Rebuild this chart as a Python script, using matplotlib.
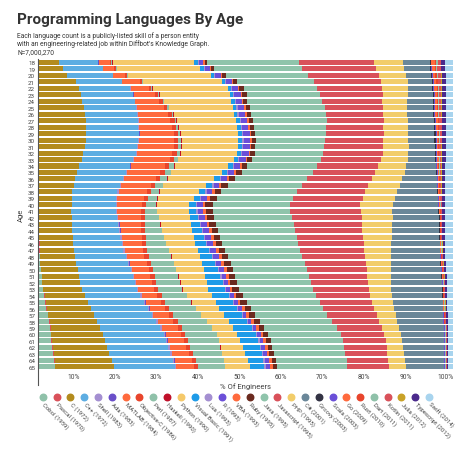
import numpy as np
import matplotlib.pyplot as plt

ages = list(range(18, 66))

languages = ["Cobol (1959)", "Pascal (1970)", "C (1972)", "C++ (1972)", "Shell (1983)", "Ada (1983)",
             "MATLAB (1984)", "Objective-C (1986)", "Perl (1987)", "Haskell (1990)", "Python (1990)",
             "Visual Basic (1991)", "Lua (1993)", "R (1993)", "VBA (1993)", "Ruby (1995)", "Java (1995)",
             "Javascript (1995)", "PHP (1995)", "C# (2001)", "Groovy (2003)", "Scala (2003)", "Go (2009)",
             "Rust (2010)", "Dart (2011)", "Kotlin (2011)", "Julia (2012)", "Typescript (2012)", "Swift (2014)"]

colors = ["#8fc1a9", "#d9515a", "#b38b1d", "#5dade2", "#a48fd1", "#6a4fc9",
          "#ff6a3d", "#e8452c", "#8fc1a9", "#c0102a", "#f5c96a",
          "#1e9be8", "#a48fd1", "#6b4fd8", "#ff6a3d", "#6b2a1f", "#8fc4ab",
          "#d9515a", "#f2cd6a", "#6a8799", "#333344", "#6a4fd8", "#ff6a3d",
          "#e8452c", "#8fc1a9", "#d9515a", "#c9a227", "#4b2a8c", "#a8d4ee"]

# share of engineers (%) per age, 18..65
cobol = [0.0, 0.0, 0.0, 0.0, 0.0, 0.0, 0.0, 0.0, 0.0, 0.0, 0.0, 0.0,
         0.0, 0.0, 0.0, 0.05, 0.05, 0.05, 0.1, 0.1, 0.1, 0.15, 0.2, 0.2,
         0.2, 0.2, 0.25, 0.25, 0.3, 0.3, 0.4, 0.5, 0.7, 0.9, 1.0, 1.2,
         1.5, 1.8, 2.1, 2.4, 2.7, 2.9, 3.1, 3.3, 3.5, 3.7, 3.9, 4.1]
pascal = [0.1, 0.1, 0.1, 0.1, 0.1, 0.1, 0.1, 0.1, 0.1, 0.1, 0.1, 0.1,
          0.1, 0.1, 0.1, 0.1, 0.1, 0.1, 0.1, 0.1, 0.1, 0.1, 0.1, 0.1,
          0.1, 0.1, 0.1, 0.1, 0.1, 0.1, 0.1, 0.1, 0.1, 0.1, 0.1, 0.1,
          0.2, 0.2, 0.2, 0.2, 0.2, 0.2, 0.2, 0.2, 0.2, 0.2, 0.2, 0.2]
c = [5.1, 5.8, 7.0, 9.2, 10.1, 10.6, 10.8, 11.3, 11.6, 11.8, 11.9, 12.0,
     11.9, 11.6, 11.1, 10.6, 10.0, 9.4, 8.9, 8.5, 8.2, 8.0, 8.0, 7.9,
     7.9, 8.0, 8.0, 8.1, 8.2, 8.4, 8.6, 8.8, 9.0, 9.1, 9.3, 9.4,
     9.8, 10.2, 10.7, 11.2, 11.8, 12.3, 12.8, 13.1, 13.4, 13.7, 14.0, 14.2]
cpp = [9.4, 9.6, 11.0, 11.3, 12.5, 12.8, 13.0, 13.0, 13.0, 13.1, 13.1, 13.1,
       13.0, 13.0, 13.0, 12.7, 12.3, 11.9, 11.5, 11.2, 11.0, 10.9, 10.8, 10.9,
       11.0, 11.2, 11.4, 11.6, 11.8, 12.0, 12.3, 12.6, 12.9, 13.1, 13.3, 13.5,
       13.7, 13.9, 14.1, 14.3, 14.6, 14.8, 15.0, 15.0, 15.0, 15.0, 15.0, 15.0]
shell = [0.1, 0.1, 0.1, 0.1, 0.1, 0.1, 0.1, 0.1, 0.1, 0.1, 0.1, 0.2,
         0.2, 0.2, 0.2, 0.2, 0.2, 0.3, 0.3, 0.3, 0.3, 0.3, 0.3, 0.3,
         0.3, 0.3, 0.3, 0.3, 0.3, 0.3, 0.3, 0.3, 0.3, 0.3, 0.3, 0.3,
         0.3, 0.3, 0.3, 0.3, 0.3, 0.3, 0.3, 0.3, 0.3, 0.3, 0.3, 0.3]
ada = [0.05, 0.05, 0.05, 0.05, 0.05, 0.05, 0.05, 0.05, 0.05, 0.05, 0.05, 0.05,
       0.05, 0.05, 0.05, 0.05, 0.05, 0.05, 0.05, 0.05, 0.05, 0.05, 0.05, 0.05,
       0.1, 0.1, 0.1, 0.1, 0.1, 0.1, 0.1, 0.1, 0.1, 0.1, 0.1, 0.1,
       0.1, 0.1, 0.1, 0.1, 0.1, 0.1, 0.1, 0.1, 0.1, 0.1, 0.1, 0.1]
matlab = [2.7, 2.7, 2.8, 4.2, 4.4, 5.3, 6.0, 6.7, 7.4, 7.8, 8.2, 8.5,
          8.7, 8.8, 8.8, 8.7, 8.4, 8.0, 7.6, 7.2, 6.8, 6.5, 6.2, 5.9,
          5.6, 5.3, 5.0, 4.8, 4.5, 4.3, 4.2, 4.1, 4.0, 3.9, 3.8, 3.8,
          3.8, 3.8, 3.8, 3.8, 3.8, 3.8, 3.8, 3.9, 4.0, 4.1, 4.2, 4.3]
objc = [0.4, 0.4, 0.4, 0.6, 0.6, 0.7, 0.8, 0.9, 1.0, 1.1, 1.1, 1.1,
        1.1, 1.1, 1.1, 1.1, 1.1, 1.1, 1.1, 1.0, 1.0, 1.0, 1.0, 1.0,
        1.0, 1.0, 1.0, 1.0, 1.0, 1.0, 1.0, 1.0, 1.0, 1.0, 1.0, 1.0,
        1.0, 1.0, 1.0, 1.0, 1.0, 1.0, 1.0, 1.0, 1.0, 1.0, 1.0, 1.0]
perl = [0.2, 0.2, 0.2, 0.2, 0.3, 0.3, 0.3, 0.4, 0.4, 0.4, 0.5, 0.6,
        0.7, 0.8, 0.8, 1.0, 1.2, 1.5, 1.7, 1.9, 2.1, 2.3, 2.4, 2.8,
        3.2, 3.6, 4.0, 4.4, 4.8, 5.3, 5.5, 5.6, 5.7, 5.8, 5.9, 6.0,
        6.2, 6.4, 6.6, 6.9, 7.2, 7.5, 7.7, 7.6, 7.4, 7.1, 6.8, 6.5]
haskell = [0.1, 0.1, 0.1, 0.1, 0.1, 0.1, 0.1, 0.1, 0.1, 0.1, 0.1, 0.1,
           0.1, 0.1, 0.1, 0.1, 0.1, 0.1, 0.1, 0.1, 0.1, 0.1, 0.1, 0.1,
           0.1, 0.1, 0.1, 0.1, 0.1, 0.1, 0.1, 0.1, 0.1, 0.1, 0.1, 0.1,
           0.1, 0.1, 0.1, 0.1, 0.1, 0.1, 0.1, 0.1, 0.1, 0.1, 0.1, 0.1]
python = [19.8, 19.8, 20.0, 19.3, 18.5, 17.5, 16.6, 15.8, 15.0, 14.8, 14.6, 14.4,
          14.2, 14.1, 14.0, 13.6, 13.0, 12.2, 11.3, 10.4, 9.6, 8.8, 8.0, 7.8,
          7.6, 7.4, 7.3, 7.2, 7.1, 7.0, 6.9, 6.8, 6.7, 6.5, 6.4, 6.3,
          6.1, 5.9, 5.7, 5.5, 5.3, 5.1, 5.0, 5.2, 5.4, 5.6, 5.8, 6.0]
vb = [1.0, 0.9, 0.8, 0.7, 0.7, 0.7, 0.8, 0.8, 0.8, 0.9, 0.9, 1.0,
      1.0, 1.0, 1.0, 1.1, 1.2, 1.3, 1.4, 1.5, 1.5, 1.6, 1.7, 1.8,
      1.9, 2.1, 2.3, 2.4, 2.6, 2.7, 3.0, 3.2, 3.5, 3.7, 3.9, 4.1,
      4.2, 4.3, 4.4, 4.5, 4.5, 4.6, 4.6, 4.5, 4.3, 4.1, 3.9, 3.6]
lua = [0.3, 0.3, 0.3, 0.3, 0.3, 0.3, 0.3, 0.3, 0.3, 0.3, 0.3, 0.3,
       0.3, 0.3, 0.3, 0.3, 0.3, 0.3, 0.3, 0.3, 0.3, 0.3, 0.3, 0.3,
       0.3, 0.3, 0.3, 0.3, 0.3, 0.3, 0.3, 0.3, 0.3, 0.3, 0.3, 0.3,
       0.3, 0.3, 0.3, 0.3, 0.3, 0.3, 0.3, 0.3, 0.3, 0.3, 0.3, 0.3]
r = [1.0, 1.2, 1.3, 1.4, 1.4, 1.5, 1.5, 1.6, 1.6, 1.6, 1.6, 1.6,
     1.6, 1.6, 1.6, 1.5, 1.5, 1.5, 1.4, 1.4, 1.4, 1.4, 1.4, 1.4,
     1.4, 1.4, 1.4, 1.4, 1.4, 1.4, 1.3, 1.2, 1.1, 1.0, 0.9, 0.8,
     0.8, 0.8, 0.8, 0.8, 0.8, 0.8, 0.8, 0.9, 1.0, 1.0, 1.1, 1.1]
vba = [0.3, 0.3, 0.3, 0.3, 0.4, 0.4, 0.4, 0.4, 0.4, 0.4, 0.4, 0.4,
       0.4, 0.4, 0.4, 0.4, 0.5, 0.5, 0.5, 0.5, 0.6, 0.6, 0.6, 0.6,
       0.6, 0.7, 0.7, 0.7, 0.7, 0.7, 0.7, 0.7, 0.7, 0.7, 0.7, 0.7,
       0.7, 0.7, 0.7, 0.7, 0.7, 0.7, 0.7, 0.7, 0.6, 0.6, 0.6, 0.6]
ruby = [0.6, 0.8, 1.0, 1.1, 1.2, 1.1, 1.0, 1.0, 1.0, 1.0, 1.0, 1.0,
        1.0, 1.0, 1.0, 1.1, 1.2, 1.3, 1.4, 1.5, 1.6, 1.7, 1.8, 1.8,
        1.7, 1.7, 1.6, 1.6, 1.5, 1.5, 1.5, 1.6, 1.6, 1.6, 1.7, 1.7,
        1.6, 1.6, 1.5, 1.4, 1.4, 1.3, 1.2, 1.2, 1.1, 1.1, 1.0, 1.0]
java = [22.4, 21.0, 19.8, 18.8, 18.0, 18.2, 18.4, 18.6, 18.8, 18.5, 18.0, 17.6,
        17.3, 17.1, 17.0, 17.0, 17.1, 17.3, 17.6, 18.0, 18.4, 18.8, 19.0, 19.0,
        18.9, 18.8, 18.7, 18.6, 18.5, 18.3, 18.2, 18.1, 18.1, 18.0, 18.0, 18.0,
        18.0, 17.9, 17.9, 17.9, 17.8, 17.8, 17.8, 17.7, 17.6, 17.5, 17.4, 17.3]
javascript = [18.3, 17.7, 17.1, 16.6, 16.1, 15.5, 15.0, 14.5, 14.0, 14.1, 14.3, 14.5,
              14.6, 14.7, 14.7, 14.8, 15.0, 15.2, 15.6, 16.1, 16.6, 17.0, 17.3, 17.2,
              17.0, 16.7, 16.4, 16.1, 15.9, 15.7, 15.4, 15.0, 14.7, 14.3, 14.0, 13.7,
              13.3, 12.9, 12.5, 12.1, 11.6, 11.2, 10.8, 10.6, 10.5, 10.4, 10.2, 10.1]
php = [7.0, 6.8, 6.6, 6.4, 6.3, 6.2, 6.1, 6.0, 6.0, 6.0, 6.1, 6.2,
       6.2, 6.3, 6.3, 6.6, 6.9, 7.2, 7.5, 7.7, 7.9, 8.0, 8.0, 7.8,
       7.6, 7.4, 7.2, 7.0, 6.8, 6.5, 6.3, 6.1, 5.9, 5.8, 5.6, 5.5,
       5.3, 5.1, 4.9, 4.7, 4.5, 4.2, 4.0, 4.0, 4.1, 4.2, 4.2, 4.3]
csharp = [6.5, 6.3, 6.1, 6.0, 6.0, 6.1, 6.3, 6.4, 6.5, 6.5, 6.5, 6.5,
          6.5, 6.5, 6.5, 6.8, 7.2, 7.7, 8.3, 9.0, 9.7, 10.4, 11.0, 11.2,
          11.3, 11.4, 11.5, 11.6, 11.7, 11.8, 11.9, 12.0, 12.1, 12.3, 12.4, 12.5,
          12.4, 12.2, 12.0, 11.7, 11.4, 11.0, 10.6, 10.3, 10.0, 9.7, 9.4, 9.2]
groovy = [0.2, 0.2, 0.2, 0.2, 0.2, 0.2, 0.3, 0.3, 0.3, 0.3, 0.3, 0.3,
          0.3, 0.3, 0.3, 0.3, 0.2, 0.2, 0.2, 0.2, 0.2, 0.2, 0.2, 0.2,
          0.1, 0.1, 0.1, 0.1, 0.1, 0.1, 0.1, 0.1, 0.1, 0.1, 0.1, 0.1,
          0.1, 0.1, 0.1, 0.1, 0.1, 0.1, 0.1, 0.1, 0.1, 0.1, 0.1, 0.1]
scala = [0.2, 0.2, 0.2, 0.3, 0.3, 0.3, 0.3, 0.3, 0.3, 0.3, 0.3, 0.3,
         0.3, 0.3, 0.3, 0.2, 0.2, 0.2, 0.2, 0.2, 0.2, 0.1, 0.1, 0.1,
         0.1, 0.1, 0.1, 0.1, 0.1, 0.1, 0.1, 0.1, 0.1, 0.1, 0.1, 0.1,
         0.1, 0.1, 0.1, 0.1, 0.1, 0.1, 0.1, 0.1, 0.1, 0.1, 0.1, 0.1]
go = [0.8, 0.7, 0.6, 0.6, 0.6, 0.5, 0.5, 0.5, 0.5, 0.4, 0.4, 0.4,
      0.4, 0.3, 0.3, 0.3, 0.3, 0.2, 0.2, 0.2, 0.2, 0.2, 0.2, 0.2,
      0.1, 0.1, 0.1, 0.1, 0.1, 0.1, 0.1, 0.1, 0.1, 0.1, 0.1, 0.1,
      0.1, 0.1, 0.1, 0.1, 0.1, 0.1, 0.1, 0.1, 0.1, 0.1, 0.1, 0.1]
rust = [0.4, 0.3, 0.3, 0.3, 0.2, 0.2, 0.2, 0.2, 0.2, 0.2, 0.2, 0.2,
        0.2, 0.2, 0.2, 0.2, 0.2, 0.1, 0.1, 0.1, 0.1, 0.1, 0.1, 0.1,
        0.1, 0.1, 0.1, 0.1, 0.1, 0.1, 0.1, 0.1, 0.1, 0.1, 0.1, 0.1,
        0.1, 0.1, 0.1, 0.1, 0.1, 0.1, 0.1, 0.1, 0.1, 0.1, 0.1, 0.1]
dart = [0.3, 0.3, 0.3, 0.2, 0.2, 0.2, 0.2, 0.2, 0.2, 0.1, 0.1, 0.1,
        0.1, 0.1, 0.1, 0.1, 0.1, 0.1, 0.1, 0.1, 0.1, 0.1, 0.1, 0.1,
        0.1, 0.1, 0.1, 0.1, 0.1, 0.1, 0.1, 0.1, 0.1, 0.1, 0.1, 0.1,
        0.1, 0.1, 0.1, 0.1, 0.1, 0.1, 0.1, 0.1, 0.1, 0.1, 0.1, 0.1]
kotlin = [0.8, 0.8, 0.8, 0.7, 0.7, 0.7, 0.7, 0.6, 0.6, 0.6, 0.6, 0.5,
          0.5, 0.5, 0.5, 0.4, 0.4, 0.4, 0.3, 0.3, 0.3, 0.3, 0.3, 0.2,
          0.2, 0.2, 0.2, 0.2, 0.2, 0.2, 0.2, 0.2, 0.2, 0.2, 0.2, 0.2,
          0.2, 0.2, 0.2, 0.2, 0.2, 0.2, 0.2, 0.2, 0.2, 0.2, 0.2, 0.2]
julia = [0.1, 0.1, 0.1, 0.1, 0.1, 0.1, 0.1, 0.1, 0.1, 0.1, 0.1, 0.1,
         0.1, 0.1, 0.1, 0.1, 0.1, 0.1, 0.1, 0.1, 0.1, 0.1, 0.1, 0.1,
         0.1, 0.1, 0.1, 0.1, 0.1, 0.1, 0.1, 0.1, 0.1, 0.1, 0.1, 0.1,
         0.1, 0.1, 0.1, 0.1, 0.1, 0.1, 0.1, 0.1, 0.1, 0.1, 0.1, 0.1]
typescript = [1.0, 1.0, 1.0, 1.0, 1.0, 1.0, 1.0, 1.0, 1.0, 1.0, 1.0, 1.0,
              1.0, 1.0, 1.0, 1.0, 0.9, 0.9, 0.8, 0.8, 0.8, 0.7, 0.7, 0.7,
              0.6, 0.6, 0.6, 0.6, 0.5, 0.5, 0.5, 0.5, 0.5, 0.5, 0.4, 0.4,
              0.4, 0.4, 0.4, 0.4, 0.4, 0.3, 0.3, 0.3, 0.3, 0.3, 0.3, 0.3]
swift = [1.9, 1.9, 1.8, 1.8, 1.8, 1.8, 1.8, 1.8, 1.8, 1.8, 1.8, 1.8,
         1.8, 1.8, 1.8, 1.8, 1.9, 1.9, 2.0, 2.0, 2.0, 2.0, 2.0, 2.0,
         2.0, 2.0, 2.0, 2.0, 2.0, 2.0, 1.9, 1.8, 1.7, 1.6, 1.6, 1.5,
         1.5, 1.4, 1.4, 1.3, 1.3, 1.2, 1.2, 1.2, 1.2, 1.2, 1.2, 1.2]

series = [cobol, pascal, c, cpp, shell, ada, matlab, objc, perl, haskell, python, vb, lua, r, vba,
          ruby, java, javascript, php, csharp, groovy, scala, go, rust, dart, kotlin, julia,
          typescript, swift]

plt.rcParams['font.family'] = ['Roboto', 'DejaVu Sans']

data = np.array(series, dtype=float)
data = data / data.sum(axis=0) * 100

fig = plt.figure(figsize=(4.74, 4.52), dpi=100)
ax = fig.add_axes([0.080, 0.179, 0.876, 0.688])

y = np.arange(len(ages))
left = np.zeros(len(ages))
for vals, col in zip(data, colors):
    ax.barh(y, vals, left=left, height=0.78, color=col, linewidth=0)
    left += vals

ax.set_xlim(0, 100)
ax.set_ylim(len(ages) - 0.5, -0.5)
ax.set_yticks(y)
ax.set_yticklabels(ages, fontsize=4.5, color='#444444')
ax.set_xticks([10, 20, 30, 40, 50, 60, 70, 80, 90, 100])
ax.set_xticklabels(['10%', '20%', '30%', '40%', '50%', '60%', '70%', '80%', '90%', '100%'],
                   fontsize=4.8, color='#444444', ha='right')
ax.tick_params(axis='both', length=0, pad=2)
for s in ['top', 'right', 'bottom']:
    ax.spines[s].set_visible(False)
ax.spines['left'].set_color('#555555')
ax.spines['left'].set_linewidth(0.8)
ax.spines['left'].set_bounds(len(ages) + 1.8, -0.5)
ax.set_ylabel('Age', fontsize=5.5, color='#444444', labelpad=3)
ax.set_xlabel('% Of Engineers', fontsize=5.5, color='#444444', labelpad=2)

# legend row with rotated labels
n = len(languages)
for i, (name, col) in enumerate(zip(languages, colors)):
    xp = 0.012 + i * (0.93 / (n - 1))
    ax.scatter([xp], [-0.085], s=22, color=col, transform=ax.transAxes, clip_on=False)
    ax.text(xp + 0.006, -0.098, name, transform=ax.transAxes, rotation=-45,
            ha='left', va='top', fontsize=4.3, color='#444444', rotation_mode='anchor')

fig.text(0.036, 0.948, 'Programming Languages By Age', fontsize=11, fontweight='bold',
         color='#333333')
fig.text(0.036, 0.916, 'Each language count is a publicly-listed skill of a person entity',
         fontsize=4.8, color='#333333')
fig.text(0.036, 0.898, "with an engineering-related job within Diffbot's Knowledge Graph.",
         fontsize=4.8, color='#333333')
fig.text(0.036, 0.880, 'N=7,000,270', fontsize=4.8, color='#333333')

fig.savefig('out.png', dpi=100)
